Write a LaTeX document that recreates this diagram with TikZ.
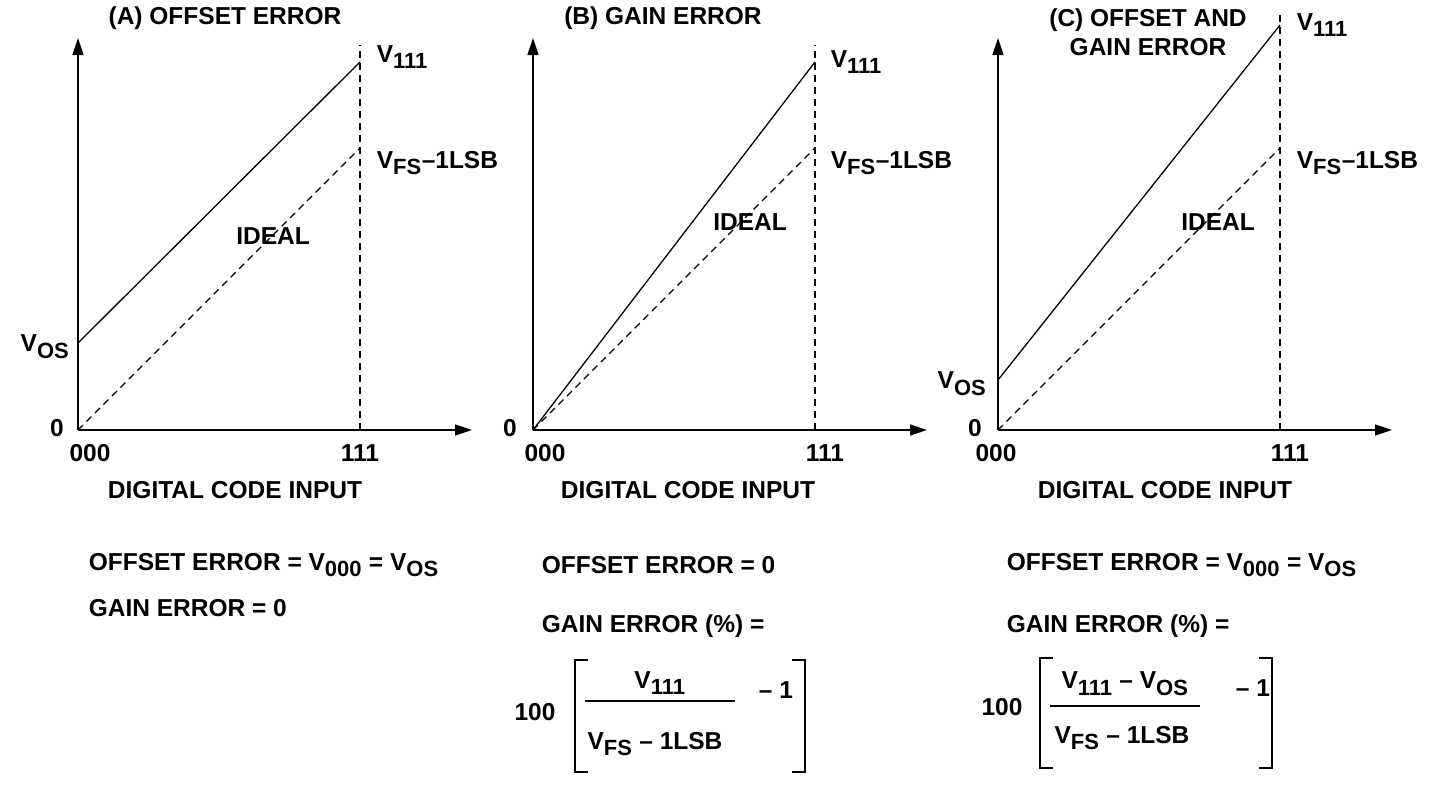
\documentclass[tikz,border=0pt]{standalone}
\usepackage{fontspec}
\setmainfont{Liberation Sans}
\usetikzlibrary{positioning,arrows.meta}
\tikzset{dac/.style={x=1pt,y=-1pt,line width=1.6pt,font=\fontsize{24.5}{29}\selectfont\bfseries},
    axis/.style={-{Triangle[length=17pt,width=11pt]}},
    ideal/.style={dashed,dash pattern=on 7pt off 5pt,line width=1.3pt},
    real/.style={line width=1.3pt},
    txt/.style={inner sep=0pt},
    lft/.style={inner sep=0pt,anchor=west}}
\newcommand{\sub}[1]{\textsubscript{\fontsize{22}{22}\selectfont #1}}
\begin{document}
\begin{tikzpicture}[dac]
\useasboundingbox (0,0) rectangle (1440,790);
% (A) offset error
\coordinate (oA) at (78,430);
\coordinate (yA) at (78,38);
\coordinate (xA) at (472,430);
\coordinate (fA) at (360,430);
\coordinate (tA) at (360,45);
\coordinate (sA) at (78,343);
\coordinate (eA) at (360,62);
\coordinate (iA) at (360,148);
\draw[axis] (oA) -- (yA);
\draw[axis] (oA) -- (xA);
\draw[ideal] (fA) -- (tA);
\draw[ideal] (oA) -- (iA);
\draw[real] (sA) -- (eA);
\node[txt] (titleA) at (225,18) {(A) OFFSET ERROR};
\node[txt] (zA) at (57,428) {0};
\node[txt] (vosA) at (45,347) {V\sub{OS}};
\node[txt] (cA0) at (90,453) {000};
\node[txt] (cA1) at (360,453) {111};
\node[txt] (dA) at (235,490) {DIGITAL CODE INPUT};
\node[lft] (v111A) at (376,57) {V\sub{111}};
\node[lft] (vfsA) at (376,163) {V\sub{FS}–1LSB};
\node[txt] (idA) at (273,236) {IDEAL};
\node[lft] (oeA) at (88,565) {OFFSET ERROR = V\sub{000} = V\sub{OS}};
\node[lft] (geA) at (88,608) {GAIN ERROR = 0};
% (B) gain error
\coordinate (oB) at (533,430);
\coordinate (yB) at (533,38);
\coordinate (xB) at (927,430);
\coordinate (fB) at (815,430);
\coordinate (tB) at (815,45);
\coordinate (eB) at (815,62);
\coordinate (iB) at (815,148);
\draw[axis] (oB) -- (yB);
\draw[axis] (oB) -- (xB);
\draw[ideal] (fB) -- (tB);
\draw[ideal] (oB) -- (iB);
\draw[real] (oB) -- (eB);
\node[txt] (titleB) at (663,18) {(B) GAIN ERROR};
\node[txt] (zB) at (510,428) {0};
\node[txt] (cB0) at (545,453) {000};
\node[txt] (cB1) at (825,453) {111};
\node[txt] (dB) at (688,490) {DIGITAL CODE INPUT};
\node[lft] (v111B) at (830,62) {V\sub{111}};
\node[lft] (vfsB) at (830,163) {V\sub{FS}–1LSB};
\node[txt] (idB) at (750,222) {IDEAL};
\node[lft] (oeB) at (541,565) {OFFSET ERROR = 0};
\node[lft] (geB) at (541,626) {GAIN ERROR (\%) =};
\node[txt] (hB) at (535,712) {100};
\node[txt] (nB) at (660,683) {V\sub{111}};
\node[txt] (dnB) at (655,744) {V\sub{FS} – 1LSB};
\node[txt] (mB) at (776,690) {– 1};
\coordinate (lB1) at (585,701);
\coordinate (lB2) at (735,701);
\draw[real] (lB1) -- (lB2);
\draw (588,660) -- (575,660) -- (575,772) -- (588,772);
\draw (792,660) -- (805,660) -- (805,772) -- (792,772);
% (C) offset and gain error
\coordinate (oC) at (998,430);
\coordinate (yC) at (998,38);
\coordinate (xC) at (1392,430);
\coordinate (fC) at (1280,430);
\coordinate (tC) at (1280,14);
\coordinate (sC) at (998,380);
\coordinate (eC) at (1280,25);
\coordinate (iC) at (1280,148);
\draw[axis] (oC) -- (yC);
\draw[axis] (oC) -- (xC);
\draw[ideal] (fC) -- (tC);
\draw[ideal] (oC) -- (iC);
\draw[real] (sC) -- (eC);
\node[txt,align=center] (titleC) at (1148,32) {(C) OFFSET AND\\GAIN ERROR};
\node[txt] (zC) at (975,428) {0};
\node[txt] (vosC) at (962,384) {V\sub{OS}};
\node[txt] (cC0) at (996,453) {000};
\node[txt] (cC1) at (1290,453) {111};
\node[txt] (dC) at (1165,490) {DIGITAL CODE INPUT};
\node[lft] (v111C) at (1296,25) {V\sub{111}};
\node[lft] (vfsC) at (1296,163) {V\sub{FS}–1LSB};
\node[txt] (idC) at (1218,222) {IDEAL};
\node[lft] (oeC) at (1006,565) {OFFSET ERROR = V\sub{000} = V\sub{OS}};
\node[lft] (geC) at (1006,626) {GAIN ERROR (\%) =};
\node[txt] (hC) at (1002,707) {100};
\node[txt] (nC) at (1125,684) {V\sub{111} – V\sub{OS}};
\node[txt] (dnC) at (1122,738) {V\sub{FS} – 1LSB};
\node[txt] (mC) at (1253,688) {– 1};
\coordinate (lC1) at (1050,706);
\coordinate (lC2) at (1200,706);
\draw[real] (lC1) -- (lC2);
\draw (1053,658) -- (1040,658) -- (1040,768) -- (1053,768);
\draw (1259,658) -- (1272,658) -- (1272,768) -- (1259,768);
\end{tikzpicture}
\end{document}
